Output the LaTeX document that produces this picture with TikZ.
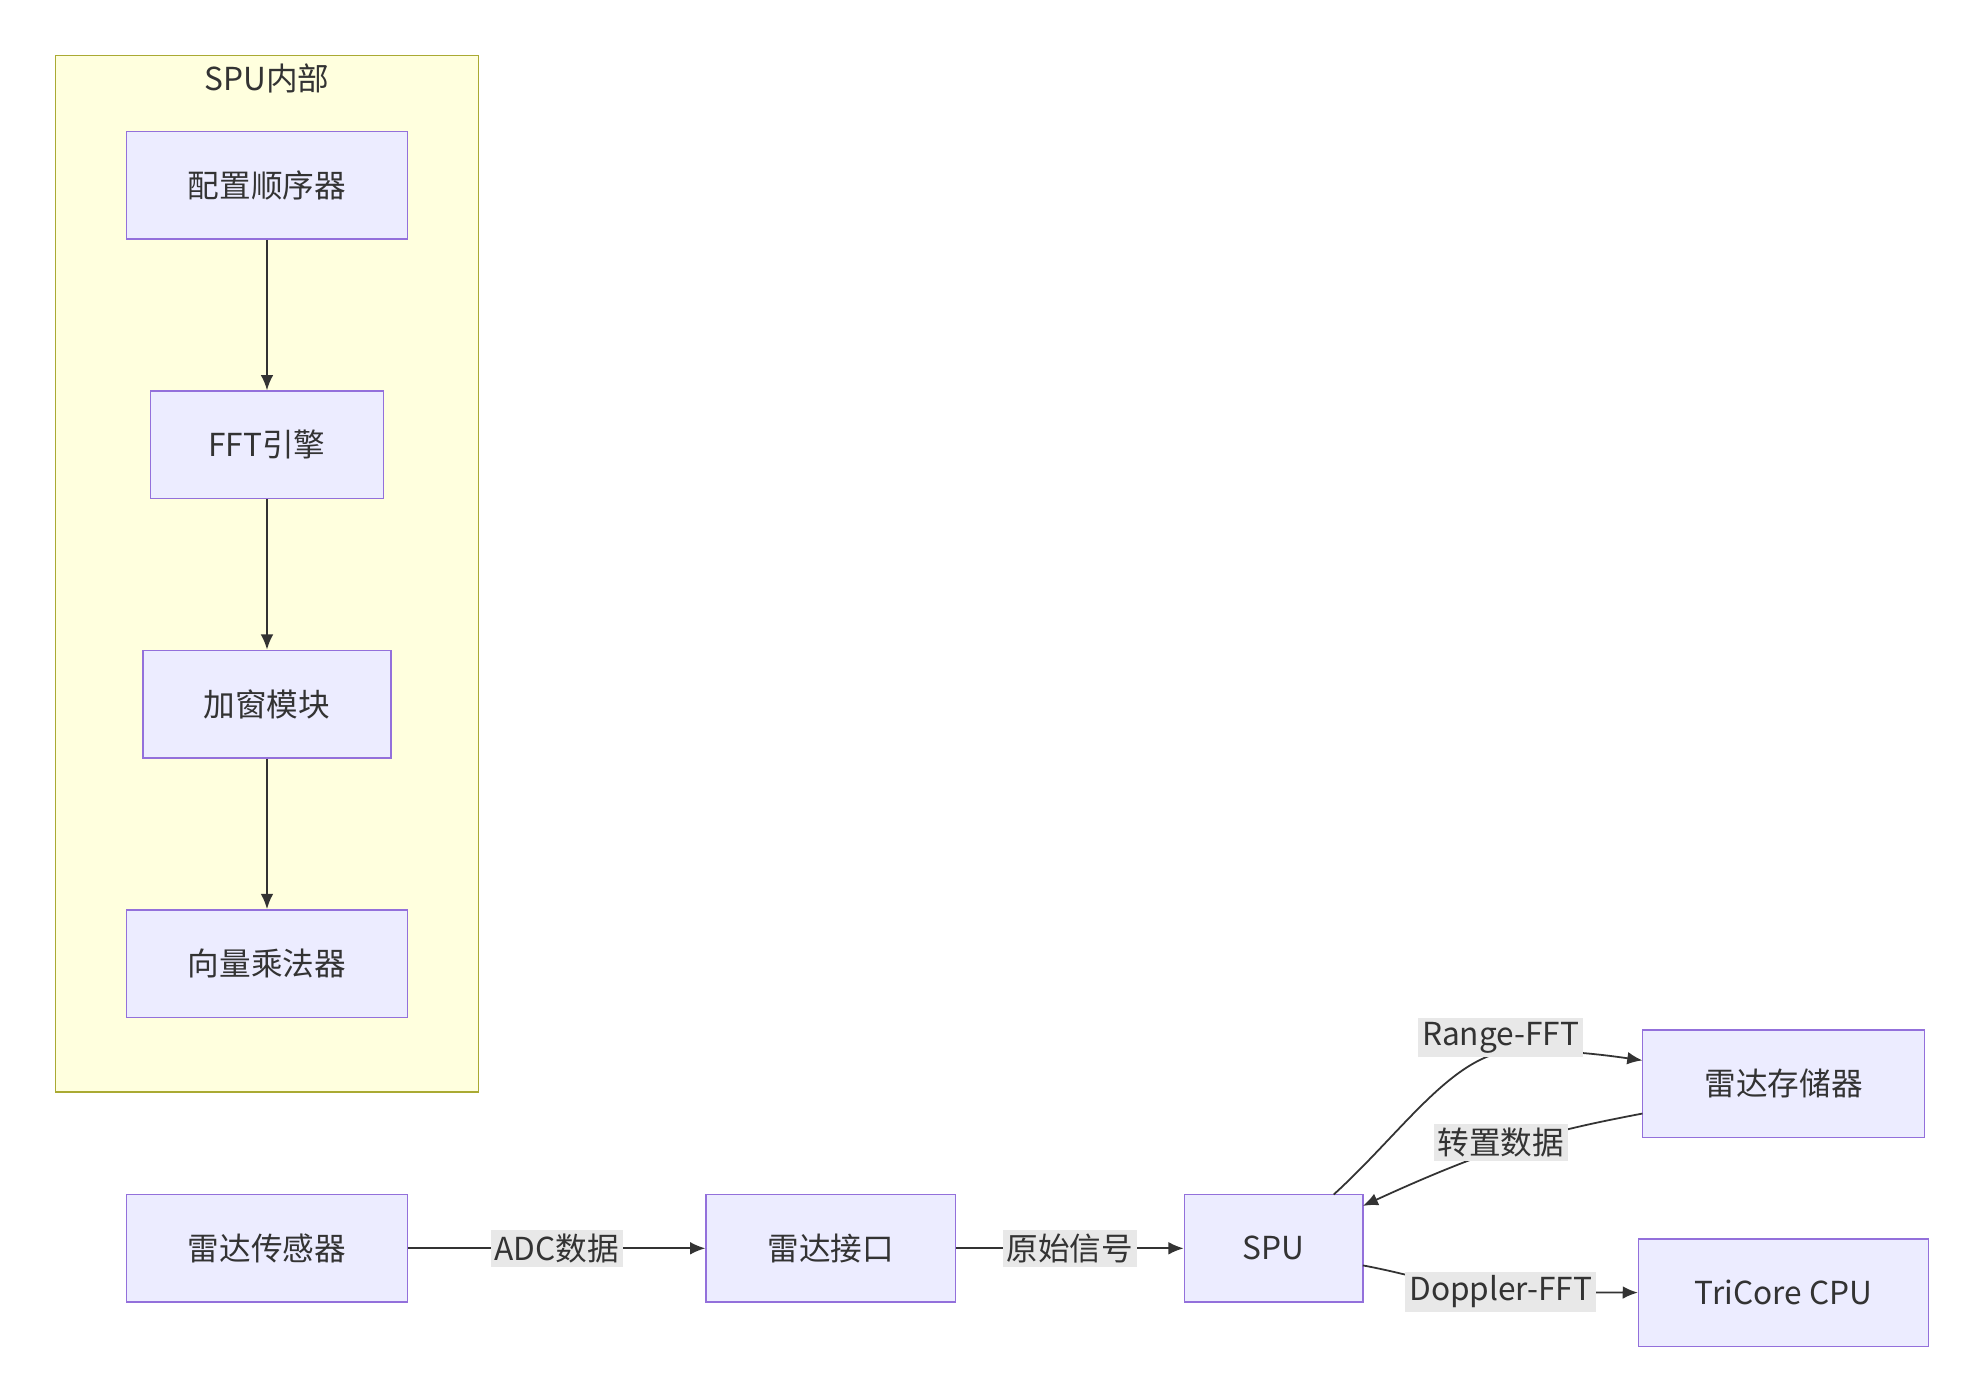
\documentclass[tikz,border=0pt]{standalone}
\usepackage{fontspec}
\setmainfont{Noto Sans CJK SC}
\usetikzlibrary{arrows.meta}
\definecolor{nodefill}{HTML}{ECECFF}
\definecolor{nodeline}{HTML}{9370DB}
\definecolor{clfill}{HTML}{FFFFDE}
\definecolor{clline}{HTML}{AAAA33}
\definecolor{lbl}{HTML}{E8E8E8}
\definecolor{edge}{HTML}{333333}
\begin{document}
\begin{tikzpicture}[x=0.5pt,y=-0.5pt,
  box/.style={draw=nodeline,fill=nodefill,line width=0.6pt,inner sep=0pt,font=\fontsize{12.5}{15}\selectfont,text=edge},
  lab/.style={fill=lbl,inner sep=1.5pt,font=\fontsize{12.5}{15}\selectfont,text=edge},
  arr/.style={draw=edge,line width=0.7pt,-{Latex[length=6pt,width=5pt]}}]
\useasboundingbox (0,0) rectangle (1560,1103);
\fill[white] (0,0) rectangle (1560,1103);
\draw[clline,fill=clfill,line width=0.6pt] (44,44) rectangle (378,863);
\node[font=\fontsize{12.5}{15}\selectfont,text=edge] (cl) at (211,62) {SPU内部};
\node[box,minimum width=111pt,minimum height=42.5pt] (cfg) at (211,146.5) {配置顺序器};
\node[box,minimum width=92pt,minimum height=42.5pt] (fft) at (211,351.5) {FFT引擎};
\node[box,minimum width=98pt,minimum height=42.5pt] (win) at (211,556.5) {加窗模块};
\node[box,minimum width=111pt,minimum height=42.5pt] (vec) at (211,761.5) {向量乘法器};
\node[box,minimum width=111pt,minimum height=42.5pt] (sen) at (211,986.5) {雷达传感器};
\node[box,minimum width=98.5pt,minimum height=42.5pt] (rif) at (656.5,986.5) {雷达接口};
\node[box,minimum width=70.5pt,minimum height=42.5pt] (spu) at (1006.5,986.5) {SPU};
\node[box,minimum width=111.5pt,minimum height=42.5pt] (mem) at (1409.5,856.5) {雷达存储器};
\node[box,minimum width=114.5pt,minimum height=42.5pt] (cpu) at (1409.5,1021.5) {TriCore CPU};
\draw[arr] (cfg) -- (fft);
\draw[arr] (fft) -- (win);
\draw[arr] (win) -- (vec);
\draw[arr] (sen) -- node[lab]{ADC数据} (rif);
\draw[arr] (rif) -- node[lab]{原始信号} (spu);
\coordinate (a1) at (1054,944);
\coordinate (a2) at (1298,838);
\draw[arr] (a1) .. controls (1110,893) and (1150,830) .. (1200,830) .. controls (1240,830) and (1270,834) .. (a2);
\node[lab] (l1) at (1186,820) {Range-FFT};
\coordinate (b1) at (1298,880);
\coordinate (b2) at (1077,953);
\draw[arr] (b1) .. controls (1230,893) and (1186,903) .. (b2);
\node[lab] (l2) at (1186,903) {转置数据};
\coordinate (c1) at (1077,1000);
\draw[arr] (c1) .. controls (1130,1010) and (1150,1021) .. (1186,1021) -- (cpu.west);
\node[lab] (l3) at (1186,1021) {Doppler-FFT};
\end{tikzpicture}
\end{document}
